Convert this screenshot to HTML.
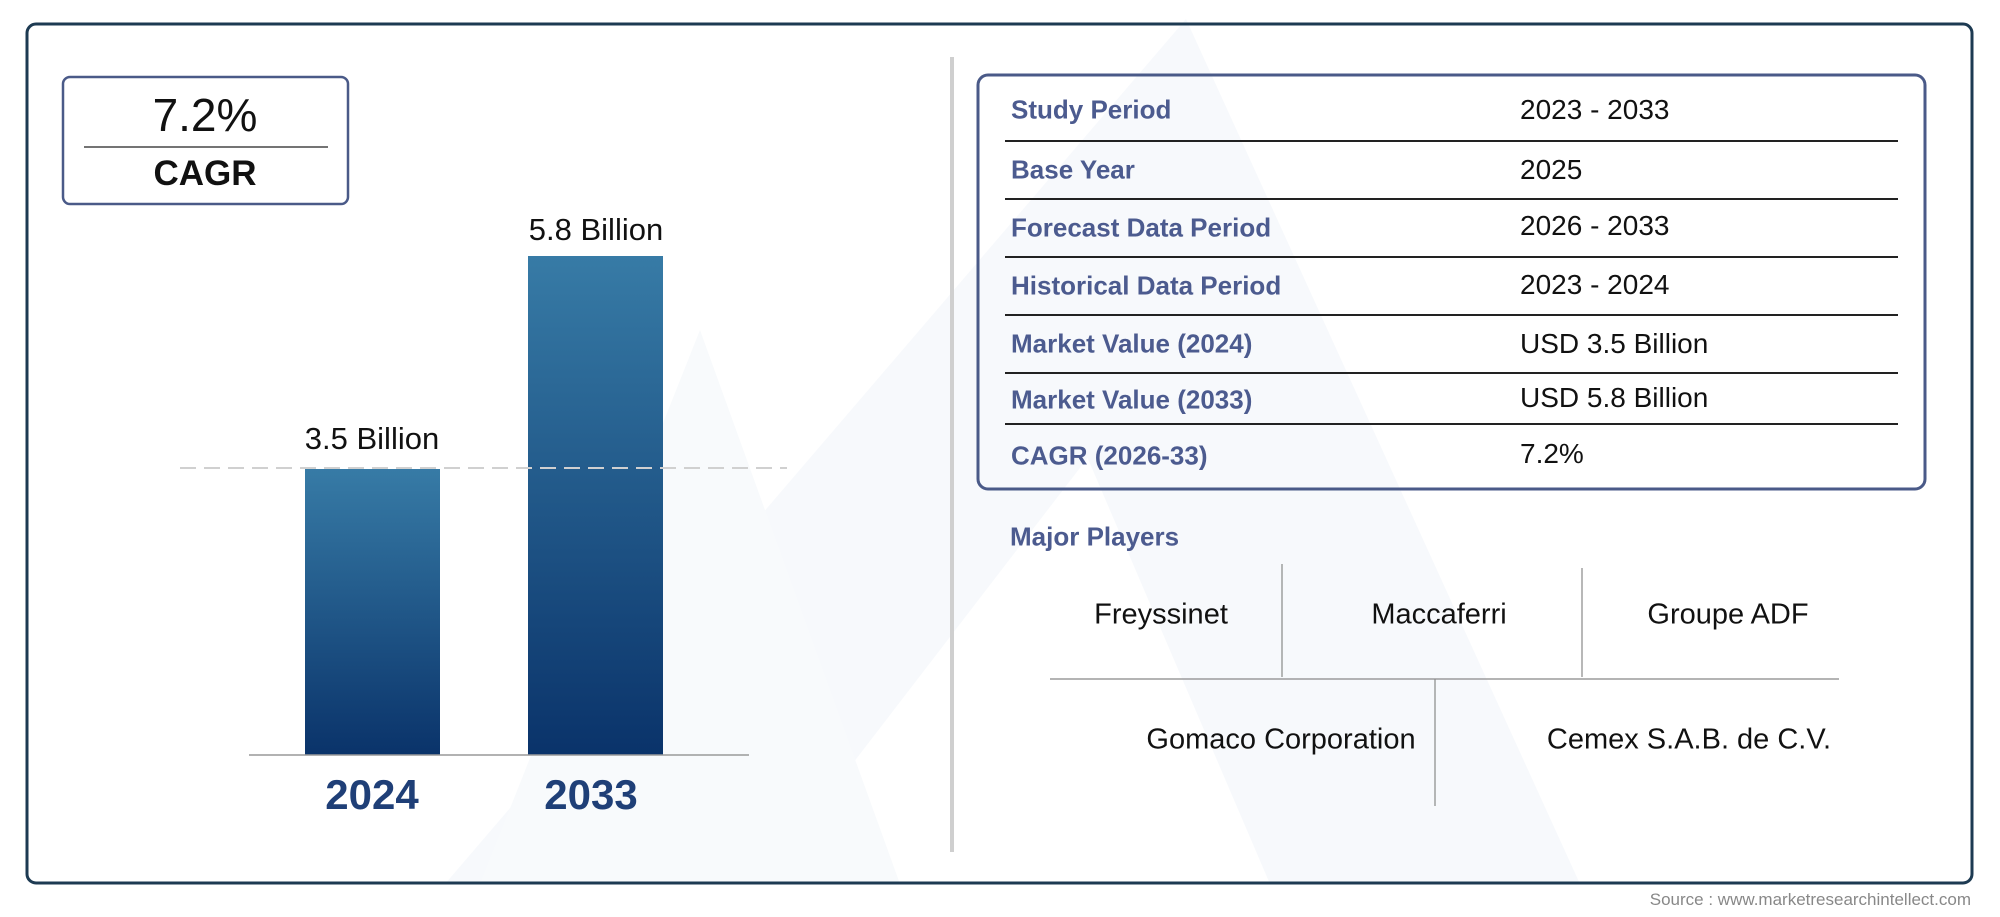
<!DOCTYPE html>
<html><head><meta charset="utf-8"><style>
body{margin:0;width:2000px;height:917px;background:#fff;overflow:hidden;font-family:"Liberation Sans",sans-serif;position:relative}
.a{position:absolute}
.lbl{position:absolute;left:1011px;font-size:26px;font-weight:bold;color:#4c5b8f;transform:translateY(-50%)}
.val{position:absolute;left:1520px;font-size:28px;color:#111;transform:translateY(-50%)}
.sep{position:absolute;left:1005px;width:893px;height:1.5px;background:#222}
.pl{position:absolute;font-size:29px;color:#111;transform:translate(-50%,-50%);white-space:nowrap}
</style></head><body>
<svg class="a" style="left:0;top:0" width="2000" height="917">
<polygon points="1186,19 445,884 760,884 1186,330" fill="#f7f9fc"/>
<polygon points="1186,19 1580,884 1270,884 1020,300" fill="#f7f9fc"/>
<polygon points="700,330 480,884 900,884" fill="#f8fafc"/>
<rect x="27" y="24" width="1945" height="859" rx="9" fill="none" stroke="#1d3a52" stroke-width="3"/>
<defs><linearGradient id="g" x1="0" y1="0" x2="0" y2="1"><stop offset="0" stop-color="#377ba6"/><stop offset="1" stop-color="#0a336a"/></linearGradient>
<linearGradient id="g2" x1="0" y1="0" x2="0" y2="1"><stop offset="0" stop-color="#377ba6"/><stop offset="1" stop-color="#0a336a"/></linearGradient></defs>
<rect x="305" y="469" width="135" height="286" fill="url(#g)"/>
<rect x="528" y="256" width="135" height="499" fill="url(#g2)"/>
<line x1="180" y1="468" x2="787" y2="468" stroke="#d0d0d0" stroke-width="2" stroke-dasharray="16,8"/>
<line x1="249" y1="755" x2="749" y2="755" stroke="#999" stroke-width="1.5"/>
<rect x="950" y="57" width="4" height="795" fill="#cfcfcf"/>
<rect x="978" y="75" width="947" height="414" rx="10" fill="none" stroke="#4a5a88" stroke-width="3"/>
<rect x="63" y="77" width="285" height="127" rx="7" fill="#fff" stroke="#4a5a88" stroke-width="2.5"/>
<line x1="84" y1="147" x2="328" y2="147" stroke="#222" stroke-width="1.2"/>
<line x1="1282" y1="564" x2="1282" y2="677" stroke="#888" stroke-width="1.2"/>
<line x1="1582" y1="568" x2="1582" y2="677" stroke="#888" stroke-width="1.2"/>
<line x1="1050" y1="679" x2="1839" y2="679" stroke="#888" stroke-width="1.2"/>
<line x1="1435" y1="679" x2="1435" y2="806" stroke="#888" stroke-width="1.2"/>
</svg>
<div class="pl" style="left:205px;top:115px;font-size:46px">7.2%</div>
<div class="pl" style="left:205px;top:174px;font-size:35px;font-weight:bold;color:#111">CAGR</div>
<div class="pl" style="left:372px;top:439px;font-size:31px">3.5 Billion</div>
<div class="pl" style="left:596px;top:230px;font-size:31px">5.8 Billion</div>
<div class="pl" style="left:372px;top:795px;font-size:42px;font-weight:bold;color:#1f3f77">2024</div>
<div class="pl" style="left:591px;top:795px;font-size:42px;font-weight:bold;color:#1f3f77">2033</div>
<div class="lbl" style="top:110px">Study Period</div><div class="val" style="top:110px">2023 - 2033</div>
<div class="sep" style="top:140px"></div>
<div class="lbl" style="top:170px">Base Year</div><div class="val" style="top:170px">2025</div>
<div class="sep" style="top:198px"></div>
<div class="lbl" style="top:228px">Forecast Data Period</div><div class="val" style="top:226px">2026 - 2033</div>
<div class="sep" style="top:256px"></div>
<div class="lbl" style="top:286px">Historical Data Period</div><div class="val" style="top:285px">2023 - 2024</div>
<div class="sep" style="top:314px"></div>
<div class="lbl" style="top:344px">Market Value (2024)</div><div class="val" style="top:344px">USD 3.5 Billion</div>
<div class="sep" style="top:372px"></div>
<div class="lbl" style="top:400px">Market Value (2033)</div><div class="val" style="top:398px">USD 5.8 Billion</div>
<div class="sep" style="top:423px"></div>
<div class="lbl" style="top:456px">CAGR (2026-33)</div><div class="val" style="top:454px">7.2%</div>
<div class="lbl" style="top:537px;left:1010px">Major Players</div>
<div class="pl" style="left:1161px;top:615px">Freyssinet</div>
<div class="pl" style="left:1439px;top:615px">Maccaferri</div>
<div class="pl" style="left:1728px;top:615px">Groupe ADF</div>
<div class="pl" style="left:1281px;top:740px">Gomaco Corporation</div>
<div class="pl" style="left:1689px;top:740px">Cemex S.A.B. de C.V.</div>
<div class="a" style="right:29px;top:890px;font-size:17px;color:#888">Source : www.marketresearchintellect.com</div>
</body></html>
